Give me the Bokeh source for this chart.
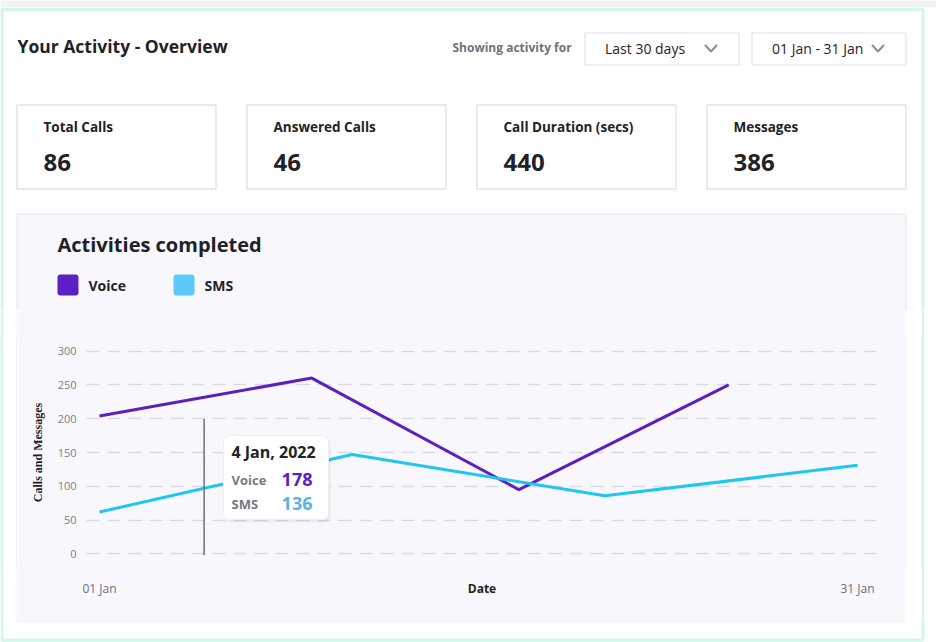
from bokeh.plotting import figure
from bokeh.models import BoxAnnotation, Label, FixedTicker, Range1d
from bokeh.layouts import column, row
from bokeh.core.properties import value
from bokeh.embed import file_html
from bokeh.resources import INLINE

# ---------------- data ----------------
voice_days = [1, 9.4, 17.6, 25.9]
voice_values = [204, 260, 95, 250]
sms_days = [1, 11, 21, 31]
sms_values = [62, 147, 86, 131]
y_ticks = [0, 50, 100, 150, 200, 250, 300]
x_ticks = [1, 31]
x_tick_labels = ["01 Jan", "31 Jan"]
series_names = ["Voice", "SMS"]
card_titles = ["Total Calls", "Answered Calls", "Call Duration (secs)", "Messages"]
card_values = ["86", "46", "440", "386"]
dropdown_labels = ["Last 30 days", "01 Jan - 31 Jan"]
hover_day = 5.14
hover_date = "4 Jan, 2022"
hover_values = ["178", "136"]

# ---------------- styles ----------------
FONT = "Open Sans"
DARK = "#1f2229"
GRAY = "#6e7180"
VOICE = "#5b1fc3"
SMS = "#1ec6f2"
SMS_LEGEND = "#5cc9fa"
SMS_TEXT = "#58b3e4"
PANEL = "#f8f8fc"
PANEL_EDGE = "#e4e5ec"
MINT = "#d3f5ea"
CARD_EDGE = "#e4e4e8"
TOPBAND = "#f3f3f6"


def deco(w, h, x0, x1, y0, y1):
    """Decoration figure whose data coordinates equal page pixels."""
    f = figure(width=w, height=h, x_range=Range1d(x0, x1), y_range=Range1d(y1, y0),
               output_backend="svg", toolbar_location=None,
               x_axis_location=None, y_axis_location=None, min_border=0)
    f.outline_line_color = None
    f.background_fill_color = "white"
    f.border_fill_color = "white"
    f.grid.visible = False
    return f


def strip(w, h, color):
    """Plain coloured strip (used beside the chart)."""
    f = figure(width=w, height=h, output_backend="svg", toolbar_location=None,
               x_axis_location=None, y_axis_location=None, min_border=0)
    f.outline_line_color = None
    f.background_fill_color = color
    f.border_fill_color = color
    f.grid.visible = False
    return f


def txt(f, x, y, s, size="14px", color=DARK, bold=True, align="left"):
    f.text(x=[x], y=[y], text=[s], text_font=value(FONT), text_font_size=size,
           text_color=color, text_font_style="bold" if bold else "normal",
           text_align=align, text_baseline="middle")


# ---------------- header (page y 0..310) ----------------
hdr = deco(936, 310, 0, 936, 0, 310)
hdr.quad(left=0, right=936, top=0, bottom=7, fill_color=TOPBAND, line_color=None)
hdr.line([1.5, 1.5, 922.5, 922.5], [330, 9, 9, 330], line_color=MINT, line_width=3)

txt(hdr, 17, 45, "Your Activity - Overview", size="17.5px")
txt(hdr, 452, 47, "Showing activity for", size="12px", color=GRAY)
dd_left = [584.5, 751.5]
for i, s in enumerate(dropdown_labels):
    l = dd_left[i]
    hdr.quad(left=l, right=l + 154, top=32.5, bottom=64.5, fill_color="white",
             line_color=CARD_EDGE, line_width=1.2)
    txt(hdr, l + 20, 48, s, size="14px", bold=False)
    cx = l + 126
    hdr.line([cx - 6, cx, cx + 6], [44.5, 51, 44.5], line_color="#8a8e9a", line_width=2)

for i, (t, v) in enumerate(zip(card_titles, card_values)):
    l = 16.5 + i * 230
    hdr.quad(left=l, right=l + 199, top=104.5, bottom=188.5, fill_color="white",
             line_color=CARD_EDGE, line_width=1.5)
    txt(hdr, l + 26.5, 126, t, size="13.5px")
    txt(hdr, l + 26.5, 162, v, size="24px")

hdr.quad(left=16.5, right=905.5, top=213.5, bottom=340, fill_color=PANEL,
         line_color=PANEL_EDGE, line_width=1)
txt(hdr, 57, 244, "Activities completed", size="20px")
leg_x = [57, 173]
leg_c = [VOICE, SMS_LEGEND]
for i, name in enumerate(series_names):
    hdr.quad(left=leg_x[i], right=leg_x[i] + 21, top=274, bottom=295,
             fill_color=leg_c[i], line_color=None, border_radius=3)
    txt(hdr, leg_x[i] + 31, 285, name, size="14px")

# ---------------- bottom strip (page y 620..642) ----------------
bot = deco(936, 22, 0, 936, 620, 642)
bot.line([16.5, 905.5], [620.5, 620.5], line_color=PANEL_EDGE, line_width=1)
bot.line([1.5, 1.5, 922.5, 922.5], [600, 639.5, 639.5, 600], line_color=MINT, line_width=3)

# ---------------- chart (page x 17..905, y 310..620) ----------------
p = figure(width=888, height=310, output_backend="svg", toolbar_location=None,
           x_range=Range1d(0.4855, 31.79), y_range=Range1d(-20, 320),
           min_border_left=69, min_border_right=28,
           min_border_top=27, min_border_bottom=53)
p.outline_line_color = None
p.background_fill_color = PANEL
p.border_fill_color = PANEL

yax = p.yaxis[0]
yax.ticker = FixedTicker(ticks=y_ticks)
yax.axis_line_color = None
yax.major_tick_line_color = None
yax.minor_tick_line_color = None
yax.major_tick_out = 0
yax.major_tick_in = 0
yax.minor_tick_out = 0
yax.major_label_standoff = 10
yax.major_label_text_font = FONT
yax.major_label_text_font_size = "11px"
yax.major_label_text_color = "#7c7e8a"
yax.axis_label = "Calls and Messages"
yax.axis_label_standoff = 10
yax.axis_label_text_font = "Liberation Serif"
yax.axis_label_text_font_size = "12px"
yax.axis_label_text_font_style = "bold"
yax.axis_label_text_color = DARK

xax = p.xaxis[0]
xax.ticker = FixedTicker(ticks=x_ticks)
xax.major_label_overrides = dict(zip(x_ticks, x_tick_labels))
xax.axis_line_color = None
xax.major_tick_line_color = None
xax.minor_tick_line_color = None
xax.major_tick_out = 0
xax.major_tick_in = 0
xax.minor_tick_out = 0
xax.major_label_standoff = 12
xax.major_label_text_font = FONT
xax.major_label_text_font_size = "12px"
xax.major_label_text_color = "#6c6e7a"
xax.axis_label = "Date"
xax.axis_label_standoff = -20
xax.axis_label_text_font = FONT
xax.axis_label_text_font_size = "12px"
xax.axis_label_text_font_style = "bold"
xax.axis_label_text_color = DARK

p.xgrid.visible = False
p.ygrid.grid_line_color = "#d9d9e3"
p.ygrid.grid_line_dash = "13 8"
p.ygrid.grid_line_width = 1.5

p.line(voice_days, voice_values, line_color=VOICE, line_width=3)
p.line(sms_days, sms_values, line_color=SMS, line_width=3)

p.segment(x0=[hover_day], y0=[-2], x1=[hover_day], y1=[200],
          line_color="#6b7083", line_width=1.5)


def cbox(l, t, r, b, fill, alpha=1.0, line=None, radius=0):
    p.add_layout(BoxAnnotation(left=l, right=r, top=t, bottom=b,
                               left_units="canvas", right_units="canvas",
                               top_units="canvas", bottom_units="canvas",
                               fill_color=fill, fill_alpha=alpha,
                               line_color=line, line_alpha=1 if line else 0,
                               line_width=1, border_radius=radius))


def clabel(x, y, s, size, color, align="left"):
    p.add_layout(Label(x=x, y=y, x_units="canvas", y_units="canvas", text=s,
                       text_font=FONT, text_font_size=size, text_color=color,
                       text_font_style="bold", text_align=align,
                       text_baseline="middle"))


cbox(207, 127, 313, 212, "#000000", alpha=0.05, radius=7)
cbox(206, 125, 311, 209, "white", line="#efeff4", radius=6)
clabel(214, 141, hover_date, "16px", DARK)
clabel(214, 169, series_names[0], "13px", "#767884")
clabel(295, 169, hover_values[0], "18px", VOICE, align="right")
clabel(214, 193, series_names[1], "13px", "#767884")
clabel(295, 193, hover_values[1], "18px", SMS_TEXT, align="right")

# side strips of the middle band: mint border, white card, panel edge
H = 310
mid = row(strip(3, H, MINT), strip(13, H, "white"), strip(1, H, PANEL_EDGE),
          p,
          strip(1, H, PANEL_EDGE), strip(15, H, "white"), strip(3, H, MINT),
          strip(12, H, "white"))

layout = column(hdr, mid, bot)
open("out.html", "w").write(file_html(layout, INLINE))
